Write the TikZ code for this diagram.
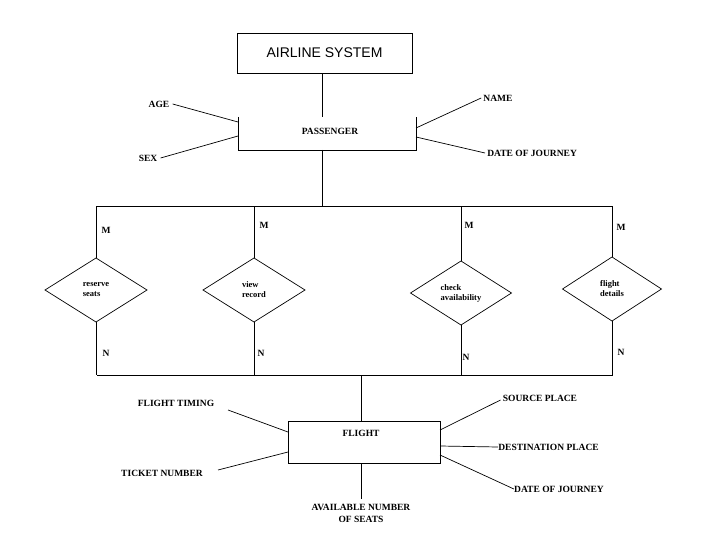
\documentclass[tikz,border=0pt]{standalone}
\usepackage{fontspec}
\setmainfont{Liberation Serif}
\newfontfamily\arialf{Liberation Sans}
\begin{document}
\begin{tikzpicture}[x=1pt,y=-1pt,line width=0.7pt,
  lbl/.style={font=\bfseries\fontsize{9.5}{12}\selectfont,inner sep=0pt},
  rel/.style={font=\bfseries\fontsize{8.5}{10}\selectfont,align=left,inner sep=0pt}]
\useasboundingbox (0,0) rectangle (714,540);
\node[draw,minimum width=175,minimum height=40,font=\arialf\fontsize{14}{16}\selectfont] (sys) at (324.5,53) {AIRLINE SYSTEM};
\coordinate (pt) at (322,117);
\node[lbl] (pas) at (330,131) {PASSENGER};
\draw (238,117) -- (238,150) -- (416,150) -- (416,117);
\draw (sys.south -| pt) -- (pt);
\node[lbl] (age) at (159,104) {AGE};
\node[lbl] (sex) at (148,158) {SEX};
\node[lbl] (name) at (498,98) {NAME};
\node[lbl,anchor=west] (doj) at (487,153) {DATE OF JOURNEY};
\draw (age.east) ++(3,0) -- (238,122);
\draw (sex.east) ++(3,0) -- (238,136);
\draw (name.west) ++(-2,0) -- (416,128);
\draw (doj.west) ++(-2,0) -- (416,137);
\coordinate (pb) at (322,150);
\coordinate (tj) at (322,206);
\draw (pb) -- (tj);
\draw (97,206) -- (613,206);
\draw (97,375) -- (613,375);
\foreach \n/\x/\y/\w/\t in {d1/96/290/102/{reserve\\seats},d2/254/290/102/{view\\record},d3/461/293/101/{check\\availability},d4/612/289/99/{flight\\details}}{
  \draw (\x-\w/2,\y) -- (\x,\y-32) -- (\x+\w/2,\y) -- (\x,\y+32) -- cycle;
  \node[rel] (\n) at (\x,\y) {\t};
  \draw (\x,206) -- (\x,\y-32);
  \draw (\x,\y+32) -- (\x,375);
}
\foreach \x/\y in {106/230,264/225,469/225,621/227}{\node[lbl] at (\x,\y) {M};}
\foreach \x/\y in {106/353,261/353,466/357,621/352}{\node[lbl] at (\x,\y) {N};}
\node[draw,minimum width=152,minimum height=42] (fl) at (364,442) {};
\node[lbl] at (361,433) {FLIGHT};
\draw (361,375) -- (361,421);
\node[lbl,align=center] (avail) at (361,513) {AVAILABLE NUMBER\\OF SEATS};
\draw (361,463) -- (361,499);
\node[lbl] (ft) at (176,403) {FLIGHT TIMING};
\node[lbl] (tn) at (162,473) {TICKET NUMBER};
\node[lbl] (sp) at (540,398) {SOURCE PLACE};
\node[lbl,anchor=west] (dp) at (498,447) {DESTINATION PLACE};
\node[lbl] (dj) at (559,489) {DATE OF JOURNEY};
\draw (228,410) -- (288,432);
\draw (218,470) -- (288,452);
\draw (sp.west) ++(-2,2) -- (440,430);
\draw (440,446) -- (dp.west);
\draw (440,455) -- (dj.west);
\end{tikzpicture}
\end{document}
